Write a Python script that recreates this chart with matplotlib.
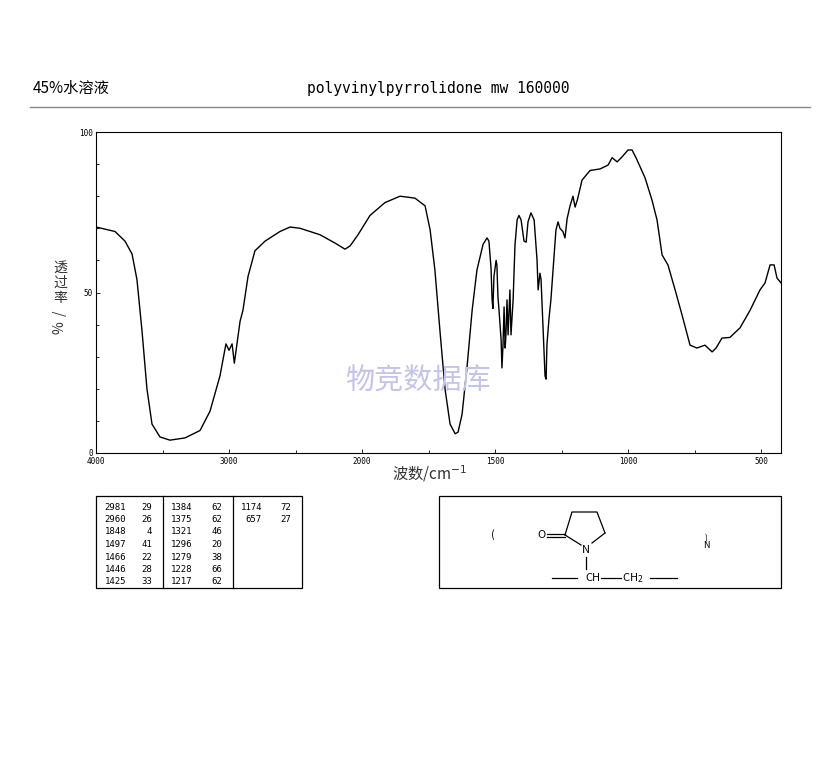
import numpy as np
import matplotlib
matplotlib.use("Agg")
import matplotlib.pyplot as plt

plt.rcParams['font.family'] = ['Noto Sans CJK SC', 'DejaVu Sans']

wavenumber = [4000,3857,3782,3729,3692,3654,3617,3579,3519,3444,3331,3218,3143,3068,3023,3000,2977,2960,2917,2895,2857,2805,2729,2617,2541,2466,2316,2203,2128,2090,2030,1970,1914,1857,1801,1763,1744,1726,1707,1688,1669,1650,1639,1624,1605,1586,1568,1545,1530,1523,1515,1511,1508,1504,1496,1493,1489,1485,1477,1474,1470,1466,1462,1459,1455,1451,1444,1440,1432,1425,1417,1410,1402,1391,1383,1376,1365,1353,1342,1338,1331,1327,1320,1312,1308,1305,1297,1290,1282,1271,1263,1256,1245,1237,1229,1218,1207,1199,1190,1173,1143,1105,1075,1060,1041,1023,1000,985,970,936,910,891,872,850,823,797,767,741,711,684,669,647,617,579,541,504,485,466,451,440,425]
transmittance = [70.4,69,66,62,54,38,20,9,5,4,4.7,7,13,24,34,32,34,28,41,44.5,55,63,66,69,70.4,70,68,65.4,63.5,64.5,68,74,78,80,79.4,77,69.5,57,38,20,9,6,6.5,12,27,44.5,57,65,67,66,57.6,47.7,45,55,60,58.6,48.6,44.5,35,26.5,33.6,45.5,32.7,36.8,47.7,36.8,50.8,36.8,47.7,64.8,72.6,74,72.6,66,65.7,72,74.8,72.6,60,50.8,56,54,40,24,23,33.6,42,47.7,57,69.5,72,70,69,67,73,77,80,76.6,79,85,88,88.5,89.7,92,90.7,92.2,94.4,94.4,92,85.7,78.8,72.6,61.7,58.6,50.8,43,33.6,32.7,33.6,31.5,32.7,35.8,36,39,44.5,50.8,53,58.6,58.6,54.5,53]
xticks = [4000,3000,2000,1500,1000,500]
yticks = [0,50,100]
peaks = [[("2981","29"),("2960","26"),("1848","4"),("1497","41"),("1466","22"),("1446","28"),("1425","33")],
         [("1384","62"),("1375","62"),("1321","46"),("1296","20"),("1279","38"),("1228","66"),("1217","62")],
         [("1174","72"),("657","27")]]

def fwd(w):
    w = np.asarray(w, float)
    return np.where(w >= 2000, (w - 2000) / 1000.0, (w - 2000) / 500.0)
def inv(u):
    u = np.asarray(u, float)
    return np.where(u >= 0, 2000 + u * 1000.0, 2000 + u * 500.0)

W, H = 836, 765
fig = plt.figure(figsize=(W/100, H/100), dpi=100)
ax = fig.add_axes([96/W, 1-453/H, (781-96)/W, (453-132)/H])
ax.set_xscale('function', functions=(fwd, inv))
ax.plot(wavenumber, transmittance, color='black', lw=1.0)
ax.set_xlim(4000, 425)
ax.set_ylim(0, 100)
ax.set_xticks(xticks)
ax.set_xticklabels([str(t) for t in xticks], fontsize=5.5, family='DejaVu Sans Mono')
ax.set_yticks(yticks)
ax.set_yticklabels([str(t) for t in yticks], fontsize=5.5, family='DejaVu Sans Mono')
ax.set_yticks(np.arange(0, 101, 10), minor=True)
ax.set_xticks([3500,2500,1750,1250,750], minor=True)
ax.tick_params(which='both', direction='in', length=3, width=0.6, pad=2)
ax.tick_params(axis='x', pad=3)
ax.tick_params(which='minor', length=2)
for s in ax.spines.values():
    s.set_linewidth(0.8)

ov = fig.add_axes([0, 0, 1, 1], facecolor='none')
ov.set_xlim(0, W); ov.set_ylim(H, 0); ov.axis('off')
ov.text(33, 88, "45%水溶液", fontsize=11, va='center', ha='left')
ov.text(438, 88, "polyvinylpyrrolidone mw 160000", fontsize=10.5, va='center', ha='center', family='DejaVu Sans Mono')
ov.plot([30, 810], [107, 107], color='#888888', lw=1)
for i, ch in enumerate(["透", "过", "率", "/", "%"]):
    ov.text(60, 268 + i * 15, ch, fontsize=10, va='center', ha='center', color='#333333',
            rotation=0 if i < 3 else 90)
ov.text(430, 474, "波数/cm$^{-1}$", fontsize=11, va='center', ha='center', color='#333333')
ov.text(418, 382, "物竞数据库", fontsize=21, va='center', ha='center', color='#c4c4ea')

ov.add_patch(plt.Rectangle((96, 496), 206, 92, fill=False, lw=0.9, color='black'))
for xv in (163, 233):
    ov.plot([xv, xv], [496, 588], color='black', lw=0.9)
colx = [(104, 152), (170, 222), (240, 291)]
for ci, col in enumerate(peaks):
    for ri, (a, b) in enumerate(col):
        y = 507 + ri * 12.5
        ov.text(colx[ci][0] + 22, y, a, fontsize=6.5, ha='right', va='center', family='DejaVu Sans Mono')
        ov.text(colx[ci][1], y, b, fontsize=6.5, ha='right', va='center', family='DejaVu Sans Mono')

ov.add_patch(plt.Rectangle((439, 496), 342, 92, fill=False, lw=0.9, color='black'))
ring = [(565, 535), (572, 512), (597, 512), (605, 533)]
ov.plot([p[0] for p in ring], [p[1] for p in ring], color='black', lw=0.9)
ov.plot([605, 592], [533, 543], color='black', lw=0.9)
ov.plot([565, 581], [535, 545], color='black', lw=0.9)
ov.plot([547, 565], [534, 534], color='black', lw=0.9)
ov.plot([547, 565], [536.5, 536.5], color='black', lw=0.9)
ov.text(541, 535, "O", fontsize=8, ha='center', va='center')
ov.text(586, 550, "N", fontsize=8, ha='center', va='center')
ov.plot([586, 586], [557, 569], color='black', lw=0.9)
ov.plot([552, 577], [578, 578], color='black', lw=0.9)
ov.text(593, 578, "CH", fontsize=8, ha='center', va='center')
ov.plot([601, 621], [578, 578], color='black', lw=0.9)
ov.text(633, 578, "CH$_2$", fontsize=8, ha='center', va='center')
ov.plot([650, 677], [578, 578], color='black', lw=0.9)
ov.text(493, 535, "(", fontsize=8, ha='center', va='center')
ov.text(706, 542, ")\nN", fontsize=6.5, ha='center', va='center', linespacing=0.6)

fig.savefig("out.png", dpi=100)
